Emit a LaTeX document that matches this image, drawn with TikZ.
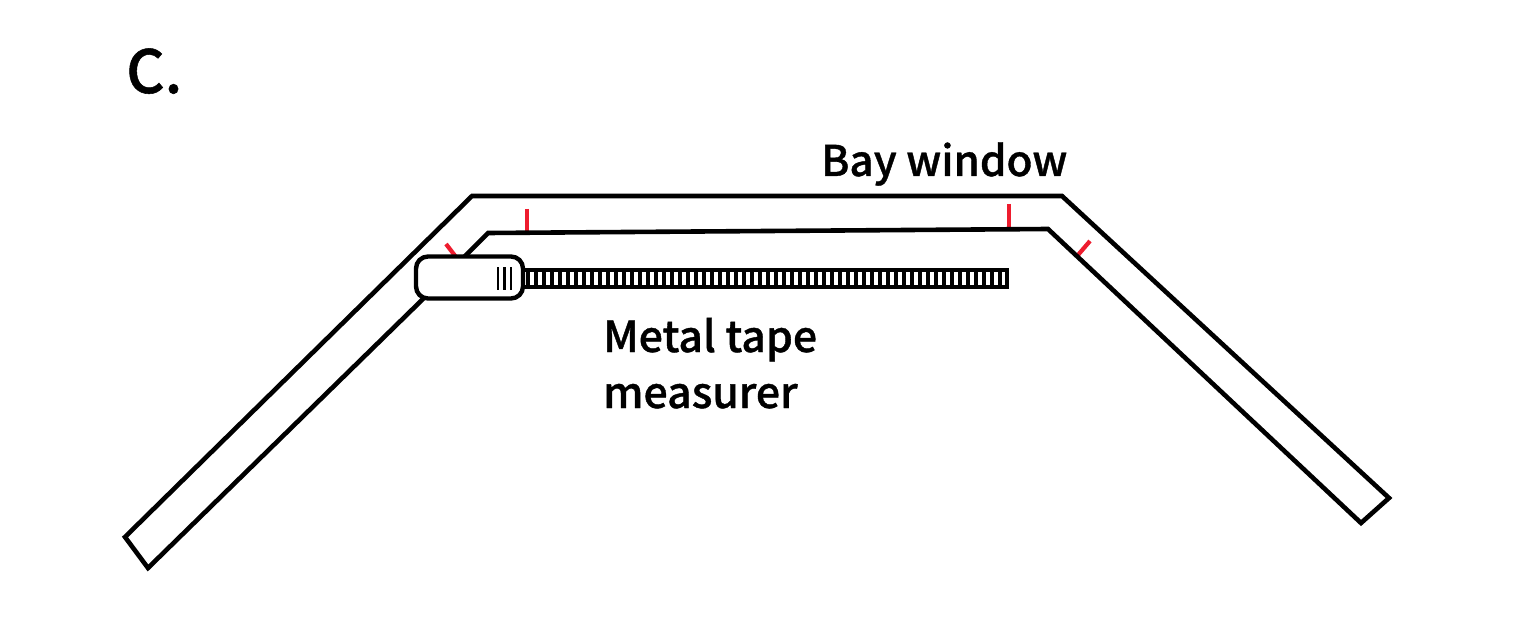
\documentclass[tikz,border=0pt]{standalone}
\usepackage{fontspec}
\setmainfont{Noto Sans CJK SC}
\newfontfamily\lblfont[FakeBold=0.9]{Noto Sans CJK SC Medium}
\definecolor{tickred}{HTML}{EE1C2E}
\tikzset{
  x=1pt,y=-1pt,
  wall/.style={draw=black,line width=4.6pt,line join=miter},
  redtick/.style={draw=tickred,line width=4.2pt},
  tapeline/.style={draw=black,line width=4pt},
  tapetick/.style={draw=black,line width=3.4pt},
  mark line/.style={draw=black,line width=2.2pt},
  lbl/.style={inner sep=0pt,anchor=base west,align=left,font=\lblfont\fontsize{42.3}{43}\selectfont},
  lblb/.style={inner sep=0pt,anchor=base west,align=left,font=\lblfont\fontsize{42.8}{43}\selectfont},
  title/.style={inner sep=0pt,anchor=base west,font=\lblfont\fontsize{59.5}{60}\selectfont}
}
\begin{document}
\begin{tikzpicture}
\useasboundingbox (0,0) rectangle (1536,628);
\fill[white] (0,0) rectangle (1536,628);
% red marks
\draw[redtick] (527,209) -- (527,231);
\draw[redtick] (1009,204) -- (1009,227);
\draw[redtick] (446,244) -- (456,257);
\draw[redtick] (1090,241) -- (1078,255);
% bay window outline
\draw[wall] (464,257) -- (488,233) -- (1048,229) -- (1361,523) -- (1389,498) -- (1062,196) -- (472,196) -- (125,537) -- (148,568) -- (424,298);
% tape
\draw[tapeline] (524,270.5) -- (1007,270.5) -- (1007,287) -- (524,287);
\foreach \i in {0,...,59} {
  \draw[tapetick] ({528+8*\i},270) -- ({528+8*\i},287);
}
% tape case
\node[draw=black,line width=4.4pt,fill=white,rounded corners=12pt,minimum width=107pt,minimum height=42pt,inner sep=0pt] (tapecase) at (469.5,277.5) {};
\draw[mark line] (498,267.5) -- (498,289.5);
\draw[mark line] (504.5,267.5) -- (504.5,289.5);
\draw[mark line] (511,267.5) -- (511,289.5);
% texts
\node[title] (clabel) at (126,93) {C.};
\node[lbl] (bay) at (821,176) {Bay window};
\node[lblb] (metal) at (603,352) {Metal tape};
\node[lblb] (measurer) at (603,408) {measurer};
\end{tikzpicture}
\end{document}
